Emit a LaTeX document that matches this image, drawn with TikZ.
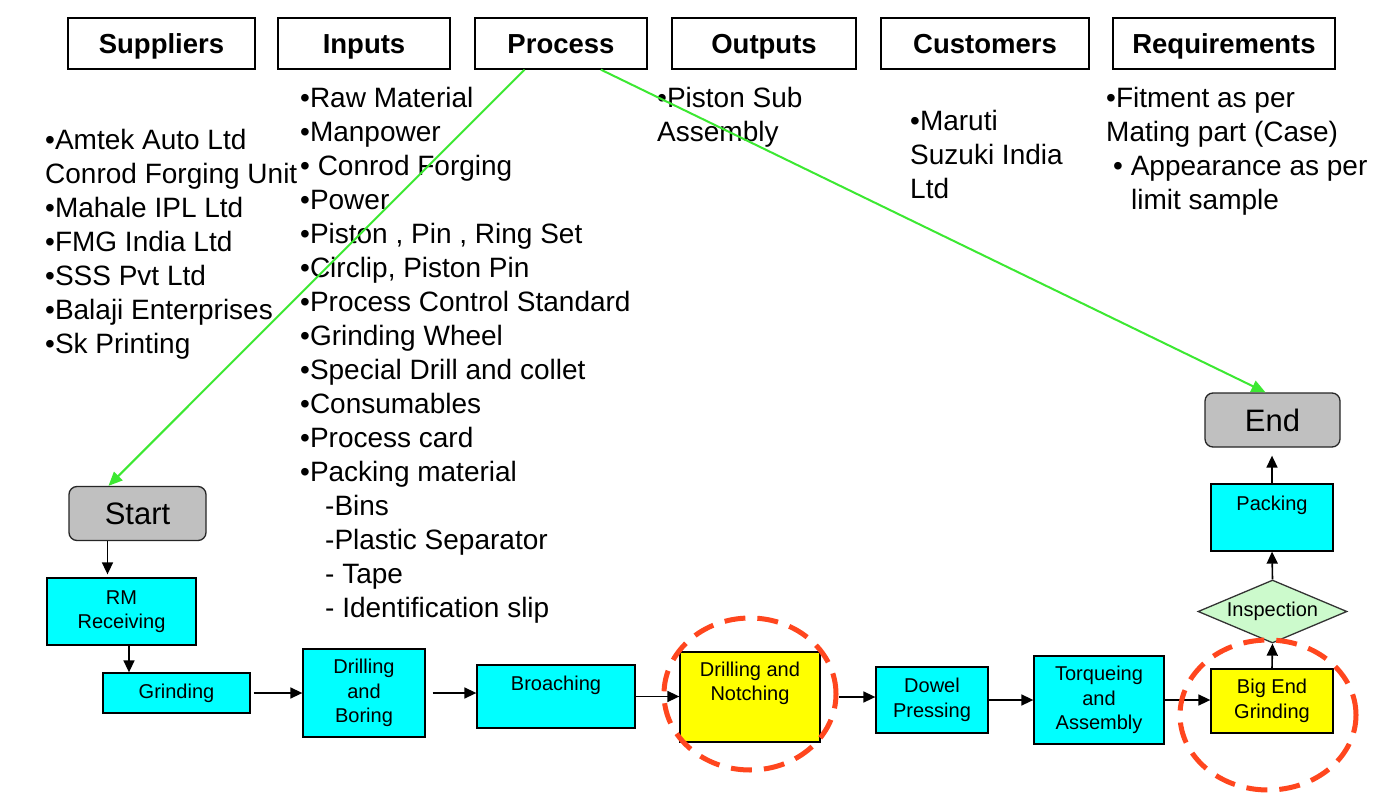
\documentclass[tikz,border=0pt]{standalone}
\usepackage{fontspec}
\setmainfont{Liberation Sans}
\usetikzlibrary{shapes.geometric,arrows.meta,calc}
\definecolor{cyanf}{RGB}{0,255,255}
\definecolor{yelf}{RGB}{255,255,0}
\definecolor{grayf}{RGB}{192,192,192}
\definecolor{insf}{RGB}{204,250,204}
\definecolor{grn}{RGB}{60,232,50}
\definecolor{colRed}{RGB}{255,70,30}
\begin{document}
\begin{tikzpicture}[x=1pt,y=-1pt,
  hdr/.style={draw=black,line width=1.3pt,minimum width=#1,minimum height=51pt,inner sep=0pt,text height=19.5pt,text depth=0pt,font=\fontsize{27.5}{32}\selectfont\bfseries},
  lst/.style={anchor=north west,inner sep=0pt,align=left,font=\fontsize{28}{34}\selectfont},
  stbox/.style={draw=black!85,line width=1.3pt,rounded corners=8pt,fill=grayf,inner sep=0pt,minimum width=#1,minimum height=54pt,font=\fontsize{31}{36}\selectfont},
  cbox/.style 2 args={draw=black,line width=1.3pt,fill=cyanf,inner sep=0pt,minimum width=#1,minimum height=#2,align=center,font=\fontsize{20}{24.5}\selectfont},
  ybox/.style 2 args={cbox={#1}{#2},fill=yelf},
  arr/.style={-{Triangle[length=12pt,width=11pt]},line width=1.6pt},
  garr/.style={-{Triangle[length=14pt,width=12pt]},line width=2pt,draw=grn,fill=grn},
  hilite/.style={ellipse,draw=colRed,line width=5pt,dash pattern=on 21pt off 12pt,minimum width=#1,inner sep=0pt}
]
\fill[white] (0,0) rectangle (1387,805);
\useasboundingbox (0,0) rectangle (1387,805);

% header boxes
\node[hdr=187] (sup)  at (161.5,43.5) {Suppliers};
\node[hdr=172] (inp)  at (364,43.5) {Inputs};
\node[hdr=172] (proc) at (561,43.5) {Process};
\node[hdr=184] (outp) at (764,43.5) {Outputs};
\node[hdr=208] (cust) at (985,43.5) {Customers};
\node[hdr=222] (req)  at (1224,43.5) {Requirements};

% text lists
\node[lst] (suptxt) at (45,129) {•Amtek Auto Ltd\\Conrod Forging Unit\\•Mahale IPL Ltd\\•FMG India Ltd\\•SSS Pvt Ltd\\•Balaji Enterprises\\•Sk Printing};
\node[lst] (inptxt) at (300,87) {•Raw Material\\•Manpower\\• Conrod Forging\\•Power\\•Piston , Pin , Ring Set\\•Circlip, Piston Pin\\•Process Control Standard\\•Grinding Wheel\\•Special Drill and collet\\•Consumables\\•Process card\\•Packing material\\\hspace*{25pt}-Bins\\\hspace*{25pt}-Plastic Separator\\\hspace*{25pt}- Tape\\\hspace*{25pt}- Identification slip};
\node[lst] (outtxt) at (657,87) {•Piston Sub\\Assembly};
\node[lst] (custtxt) at (910,110) {•Maruti\\Suzuki India\\Ltd};
\node[lst] (reqtxt) at (1106,87) {•Fitment as per\\Mating part (Case)\\\hspace*{7pt}• Appearance as per\\\hspace*{25pt}limit sample};

% flow
\node[stbox=137] (start) at (137.5,513.5) {Start};
\node[stbox=135] (endn) at (1272.5,420) {End};
\node[cbox={149}{67}] (rm) at (121.5,611.5) {RM\\Receiving};
\node[cbox={147}{40}] (grind) at (176.5,693) {Grinding};
\node[cbox={122}{88}] (drb) at (364,693) {Drilling\\and\\Boring};
\node[cbox={158}{63},text depth=27pt] (broach) at (556,696.5) {Broaching};
\node[ybox={140}{90}] (dn) at (750,697) {Drilling and\\Notching\\\strut};
\node[cbox={112}{66}] (dowel) at (932,700) {Dowel\\Pressing};
\node[cbox={130}{88}] (torq) at (1099,700) {Torqueing\\and\\Assembly};
\node[ybox={122}{64}] (bige) at (1272,701) {Big End\\Grinding};
\node[diamond,aspect=2.37,draw=black!80,line width=1.3pt,fill=insf,inner sep=0pt,minimum width=149pt,minimum height=63pt,font=\fontsize{20}{24.5}\selectfont] (insp) at (1272.5,611.5) {Inspection};
\node[cbox={122}{67},text depth=29pt] (pack) at (1272,517.5) {Packing};

% black arrows
\draw[arr,shorten >=3pt] ([xshift=-30pt]start.south) -- ([xshift=-30pt]start.south |- rm.north);
\draw[arr] ([xshift=7.5pt]rm.south) -- ([xshift=7.5pt]rm.south |- grind.north);
\draw[arr] ([xshift=3pt]grind.east) -- (grind.east -| drb.west);
\draw[arr] ([xshift=7pt]drb.east) -- (drb.east -| broach.west);
\draw[arr] (broach.east) -- (broach.east -| dn.west);
\draw[arr] ([xshift=18pt]dn.east) -- (dn.east -| dowel.west);
\draw[arr] (dowel.east) -- (dowel.east -| torq.west);
\draw[arr] (torq.east) -- (torq.east -| bige.west);
\draw[arr] (bige.north) -- (insp.south);
\draw[arr] (insp.north) -- (pack.south);
\draw[arr,shorten >=8pt] (pack.north) -- (pack.north |- endn.south);

% green connectors
\draw[garr] ($(proc.south west)!0.29!(proc.south east)$) -- ([xshift=-29pt]start.north);
\draw[garr] ($(proc.south west)!0.73!(proc.south east)$) -- ([xshift=-7pt]endn.north);

% highlights
\node[hilite=172pt,minimum height=152pt] (hl1) at (750,694) {};
\node[hilite=176pt,minimum height=150pt] (hl2) at (1268,715) {};
\end{tikzpicture}
\end{document}
